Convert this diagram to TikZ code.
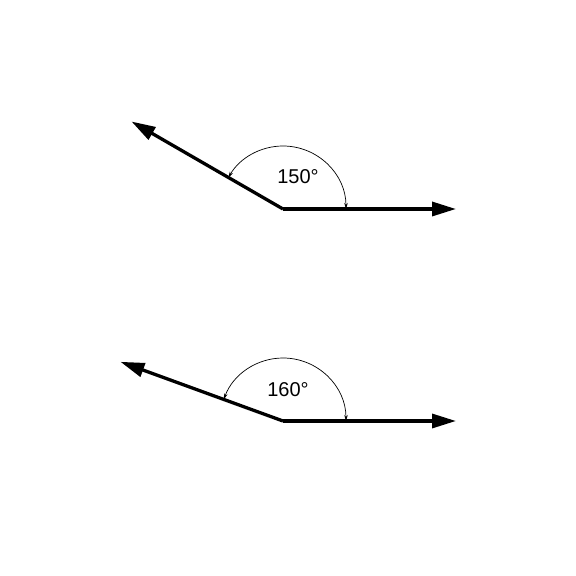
\documentclass[tikz,border=0pt]{standalone}
\usepackage{fontspec}
\setmainfont{Liberation Sans}
\usepackage{tikz}
\usetikzlibrary{arrows.meta,positioning,calc}

\begin{document}
\begin{tikzpicture}[x=1pt,y=1pt,
        ray/.style={line width=3.3pt,-{Triangle[length=24pt,width=14pt]}},
        angarc/.style={line width=0.7pt,{Stealth[length=6pt,width=3.5pt]}-{Stealth[length=6pt,width=3.5pt]}},
        deg/.style={font=\fontsize{20}{24}\selectfont}]
            \useasboundingbox (0,0) rectangle (576,576);

            % upper angle
            \coordinate (o1) at (283,367);
            \coordinate (a1) at (456,367);
            \coordinate (b1) at ($(o1)+(150:175)$);
            \draw   [ray]       (o1) -- (a1);
            \draw   [ray]       (o1) -- (b1);
            \draw   [angarc]    ($(o1)+(0:63)$) arc (0:150:63);
            \node   [deg]       (l1) at (298,399) {150°};

            % lower angle
            \coordinate (o2) at (283,155);
            \coordinate (a2) at (456,155);
            \coordinate (b2) at ($(o2)+(160:173)$);
            \draw   [ray]       (o2) -- (a2);
            \draw   [ray]       (o2) -- (b2);
            \draw   [angarc]    ($(o2)+(0:63)$) arc (0:160:63);
            \node   [deg]       (l2) at (288,186) {160°};
        \end{tikzpicture}
\end{document}
